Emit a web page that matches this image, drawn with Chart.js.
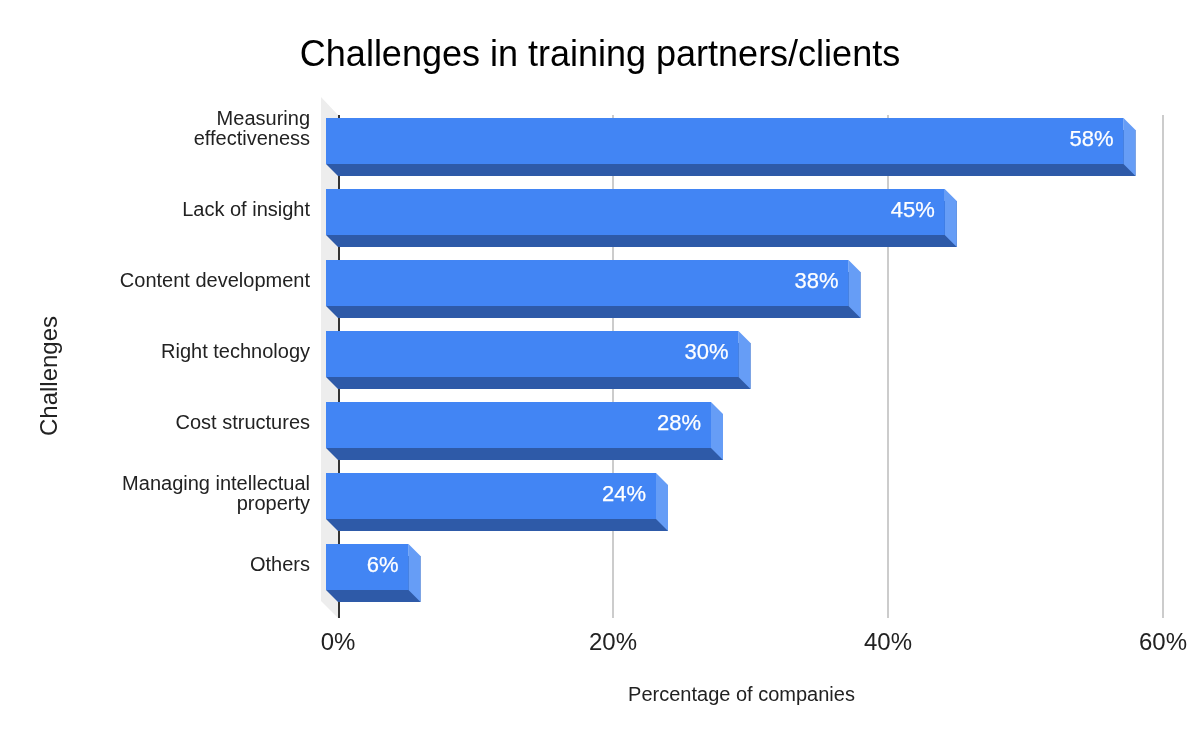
<!DOCTYPE html>
<html>
<head>
<meta charset="utf-8">
<title>Challenges in training partners/clients</title>
<script src="https://cdn.jsdelivr.net/npm/chart.js@4"></script>
<style>
  html, body { margin: 0; padding: 0; background: #fff; }
  canvas { display: block; }
</style>
</head>
<body>
<canvas id="chart_challenges" width="1200" height="742"></canvas>
<script>
const categories = [
  ["Measuring", "effectiveness", ""],
  "Lack of insight",
  "Content development",
  "Right technology",
  "Cost structures",
  ["Managing intellectual", "property"],
  "Others"
];
const companies = [58, 45, 38, 30, 28, 24, 6];
const xTickValues = [0, 20, 40, 60];
const chartTitle = "Challenges in training partners/clients";
const xTitle = "Percentage of companies";
const yTitle = "Challenges";

const FONT = "'Liberation Sans', Arial, sans-serif";
const FRONT = "#4285f4";
const SIDE = "#669df6";
const UNDER = "#2e5aa8";
const DEPTH = 12;
const WALL = 17;

function poly(ctx, color, pts) {
  ctx.fillStyle = color;
  ctx.beginPath();
  pts.forEach(function (p, i) {
    if (i == 0) ctx.moveTo(p[0], p[1]);
    else ctx.lineTo(p[0], p[1]);
  });
  ctx.closePath();
  ctx.fill();
}

// back wall, gridlines and the axis line sit behind the bars
const wallPlugin = {
  id: "wall",
  beforeDatasetsDraw: function (chart) {
    const ctx = chart.ctx;
    const area = chart.chartArea;
    const top = area.top - 2.5;
    const bottom = area.bottom + 3.5;
    const x0 = chart.scales.x.getPixelForValue(0);

    poly(ctx, "#ededed", [
      [x0 - WALL, top - WALL - 1],
      [x0, top],
      [x0, bottom],
      [x0 - WALL, bottom - WALL]
    ]);

    xTickValues.forEach(function (v) {
      const x = Math.round(chart.scales.x.getPixelForValue(v));
      ctx.fillStyle = v == 0 ? "#333333" : "#cccccc";
      ctx.fillRect(v == 0 ? x : x - 1, top, 2, bottom - top);
    });
  }
};

// front, side and bottom faces, worked out from the bar elements
const boxPlugin = {
  id: "box",
  afterDatasetsDraw: function (chart) {
    const ctx = chart.ctx;
    const bars = chart.getDatasetMeta(0).data;

    bars.forEach(function (bar, i) {
      const left = bar.base;
      const right = bar.x;
      const top = bar.y - bar.height / 2;
      const bottom = bar.y + bar.height / 2;

      poly(ctx, UNDER, [
        [left - DEPTH, bottom - DEPTH],
        [left, bottom],
        [right, bottom],
        [right - DEPTH, bottom - DEPTH]
      ]);
      poly(ctx, SIDE, [
        [right - DEPTH, top - DEPTH],
        [right, top],
        [right, bottom],
        [right - DEPTH, bottom - DEPTH]
      ]);
      ctx.fillStyle = FRONT;
      ctx.fillRect(left - DEPTH, top - DEPTH, right - left, bottom - top);

      const label = companies[i] + "%";
      ctx.fillStyle = "#ffffff";
      ctx.strokeStyle = "#ffffff";
      ctx.lineWidth = 0.25;
      ctx.font = "22px " + FONT;
      ctx.textAlign = "right";
      ctx.textBaseline = "middle";
      ctx.fillText(label, right - DEPTH - 10, bar.y - DEPTH - 1);
      ctx.strokeText(label, right - DEPTH - 10, bar.y - DEPTH - 1);
    });
  },
  // axis titles are not centred on the plot in the original
  afterDraw: function (chart) {
    const ctx = chart.ctx;
    ctx.fillStyle = "#222222";
    ctx.textAlign = "center";
    ctx.textBaseline = "middle";
    ctx.font = "20px " + FONT;
    ctx.fillText(xTitle, 741.5, 695);

    ctx.save();
    ctx.translate(50, 376);
    ctx.rotate(-Math.PI / 2);
    ctx.font = "24px " + FONT;
    ctx.fillText(yTitle, 0, 0);
    ctx.restore();
  }
};

const myChart = new Chart(document.getElementById("chart_challenges"), {
  type: "bar",
  data: {
    labels: categories,
    datasets: [{
      label: xTitle,
      data: companies,
      backgroundColor: UNDER,
      categoryPercentage: 1,
      barPercentage: 46 / 71
    }]
  },
  options: {
    indexAxis: "y",
    responsive: false,
    animation: false,
    devicePixelRatio: 1,
    plugins: {
      legend: { display: false },
      tooltip: { enabled: false },
      title: {
        display: true,
        text: chartTitle,
        color: "#000000",
        font: { family: FONT, size: 36, weight: "400" },
        padding: { top: 34.5, bottom: 39.8 }
      }
    },
    scales: {
      x: {
        min: 0,
        max: 60,
        afterBuildTicks: function (scale) {
          scale.ticks = xTickValues.map(function (v) { return { value: v }; });
        },
        afterFit: function (scale) {
          scale.height = 127.5;
          scale.paddingRight = 37;
        },
        grid: { display: false },
        border: { display: false },
        ticks: {
          color: "#222222",
          font: { family: FONT, size: 24 },
          padding: 6,
          maxRotation: 0,
          callback: function (v) { return v + "%"; }
        }
      },
      y: {
        afterFit: function (scale) { scale.width = 338; },
        grid: { display: false },
        border: { display: false },
        ticks: {
          color: "#222222",
          font: { family: FONT, size: 20, lineHeight: 1 },
          padding: 20,
          labelOffset: -14,
          autoSkip: false
        }
      }
    }
  },
  plugins: [wallPlugin, boxPlugin]
});
</script>
</body>
</html>
